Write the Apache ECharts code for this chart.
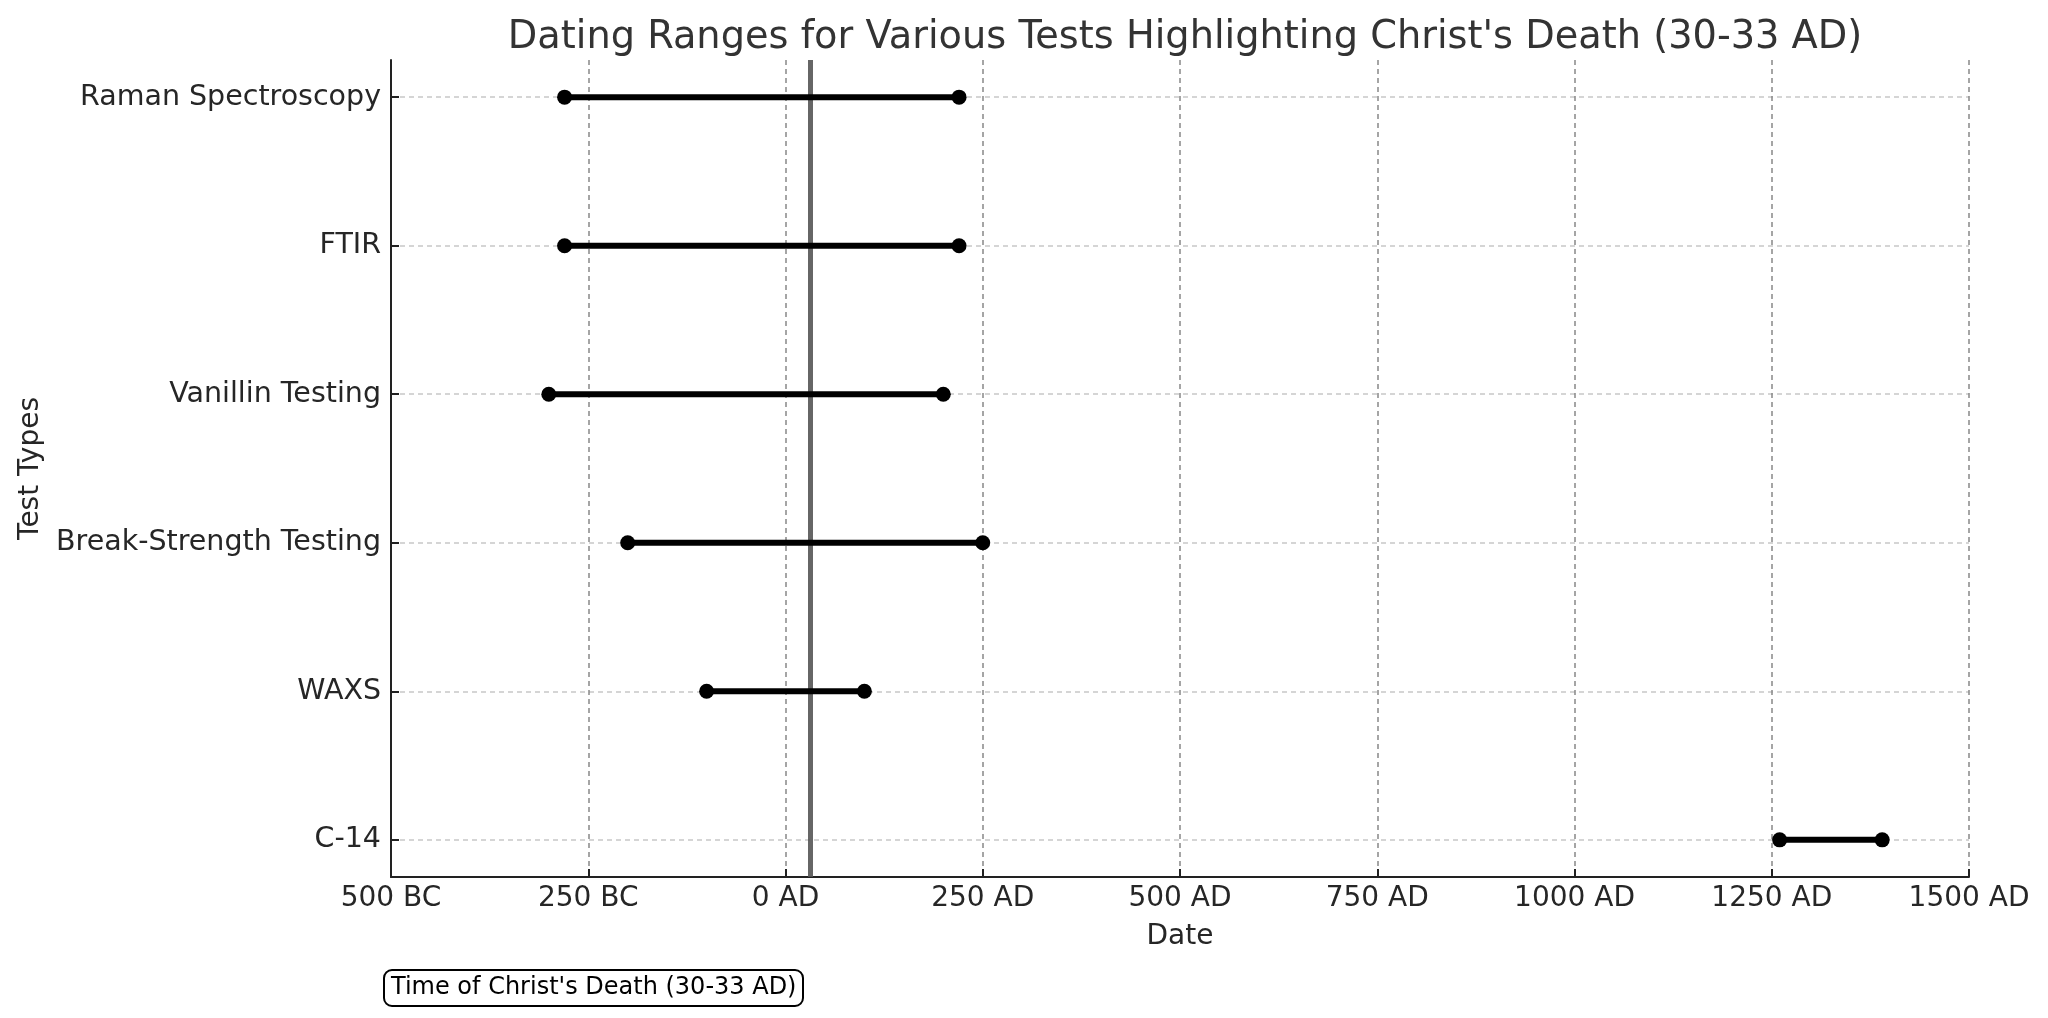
<!DOCTYPE html>
<html>
<head>
<meta charset="utf-8">
<script src="https://cdn.jsdelivr.net/npm/echarts@6/dist/echarts.min.js"></script>
<style>html,body{margin:0;padding:0;background:#fff;}#chart{width:2048px;height:1018px;}</style>
</head>
<body>
<div id="chart"></div>
<script>
// Data (bottom to top)
const categories = ['C-14', 'WAXS', 'Break-Strength Testing', 'Vanillin Testing', 'FTIR', 'Raman Spectroscopy'];
const rangeStart = [1260, -100, -200, -300, -280, -280];
const rangeEnd = [1390, 100, 250, 200, 220, 220];
const christDeath = 31.5;
const xTicks = [-500, -250, 0, 250, 500, 750, 1000, 1250, 1500];

const FONT = 'DejaVu Sans';
const chart = echarts.init(document.getElementById('chart'));

const rangeSeries = categories.map((c, i) => ({
  name: c,
  type: 'line',
  data: [[rangeStart[i], i], [rangeEnd[i], i]],
  symbol: 'circle',
  symbolSize: 15,
  lineStyle: { color: '#000', width: 6 },
  itemStyle: { color: '#000' },
  z: 5,
  animation: false
}));

const christSeries = {
  name: 'Christ',
  type: 'line',
  data: [],
  z: 3,
  markLine: {
    silent: true,
    symbol: ['none', 'none'],
    label: { show: false },
    lineStyle: { color: '#555', width: 5, type: 'solid', opacity: 0.9 },
    data: [{ xAxis: christDeath }],
    animation: false
  }
};

chart.setOption({
  animation: false,
  backgroundColor: '#fff',
  title: [
    {
      text: "Dating Ranges for Various Tests Highlighting Christ's Death (30-33 AD)",
      left: 1180, top: 14, textAlign: 'center',
      textStyle: { fontFamily: FONT, fontSize: 38.3, fontWeight: 'normal', color: '#333' }
    },
    {
      text: "Time of Christ's Death (30-33 AD)",
      left: 384, top: 970,
      padding: [6, 7, 6, 7],
      borderColor: '#000', borderWidth: 2, borderRadius: 8,
      backgroundColor: '#fff',
      textStyle: { fontFamily: FONT, fontSize: 24, fontWeight: 'normal', color: '#000' }
    }
  ],
  grid: { left: 391, right: 79, top: 60, bottom: 141 },
  xAxis: {
    type: 'value', min: -500, max: 1500, interval: 250,
    name: 'Date', nameLocation: 'middle', nameGap: 46,
    nameTextStyle: { fontFamily: FONT, fontSize: 28, color: '#262626' },
    axisLine: { show: true, onZero: false, lineStyle: { color: '#222', width: 2 } },
    axisTick: { show: true, inside: true, length: 8, lineStyle: { color: '#222', width: 2 } },
    axisLabel: {
      fontFamily: FONT, fontSize: 28, color: '#262626', margin: 8,
      formatter: v => v < 0 ? (-v) + ' BC' : v + ' AD'
    },
    splitLine: { show: true, lineStyle: { color: '#888', width: 1.5, type: [5, 4] } }
  },
  yAxis: {
    type: 'value', min: -0.25, max: 5.25,
    name: 'Test Types', nameLocation: 'middle', nameGap: 345,
    nameTextStyle: { fontFamily: FONT, fontSize: 28, color: '#262626' },
    axisLine: { show: true, onZero: false, lineStyle: { color: '#222', width: 2 } },
    axisTick: { show: true, inside: true, length: 8, customValues: [0, 1, 2, 3, 4, 5], lineStyle: { color: '#222', width: 2 } },
    axisLabel: {
      fontFamily: FONT, fontSize: 28.5, color: '#262626', margin: 10,
      padding: [6, 0, 0, 0],
      customValues: [0, 1, 2, 3, 4, 5],
      formatter: v => categories[Math.round(v)] || ''
    },
    splitLine: { show: true, lineStyle: { color: '#c8c8c8', width: 1.5, type: [5, 4] } }
  },
  series: [christSeries].concat(rangeSeries)
});
</script>
</body>
</html>
